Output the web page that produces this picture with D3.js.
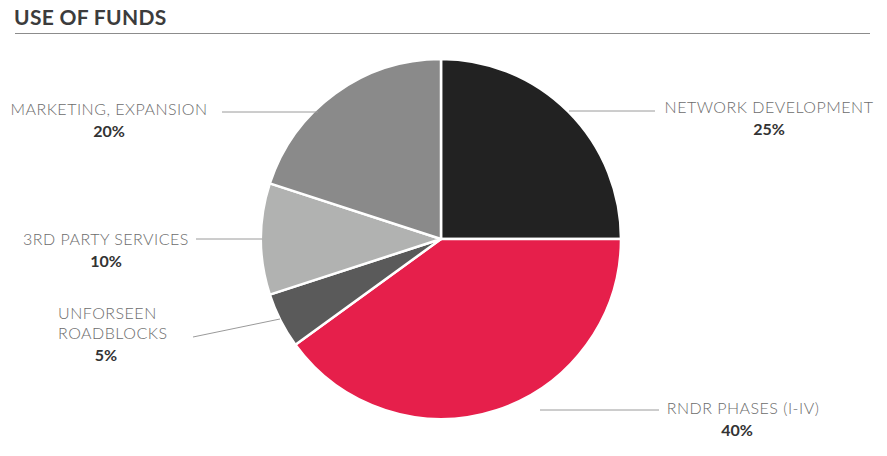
<!DOCTYPE html>
<html>
<head>
<meta charset="utf-8">
<script src="https://cdn.jsdelivr.net/npm/d3@7"></script>
<style>
  body { margin: 0; background: #fff; }
  svg { display: block; font-family: Lato, "Open Sans", sans-serif; }
</style>
</head>
<body>
<svg id="chart" width="887" height="456"></svg>
<script>
// data
let categories = ['NETWORK DEVELOPMENT', 'RNDR PHASES (I-IV)', 'UNFORSEEN ROADBLOCKS', '3RD PARTY SERVICES', 'MARKETING, EXPANSION'];
let values = [25, 40, 5, 10, 20];
let colors = ['#222222', '#e61f4b', '#5a5a5a', '#b1b2b1', '#8a8a8a'];

// label layout: text lines, anchor x, first baseline y, leader line
let labelLayout = [
  { lines: ['NETWORK DEVELOPMENT'], x: 769, y: 113, anchor: 'middle', line: [[569, 111], [655, 111]] },
  { lines: ['RNDR PHASES (I-IV)'], x: 743, y: 414, anchor: 'middle', line: [[540, 410], [659, 410]], pctX: 737 },
  { lines: ['UNFORSEEN', 'ROADBLOCKS'], x: 58, y: 319, anchor: 'start', line: [[193, 337], [280, 319]], pctX: 106 },
  { lines: ['3RD PARTY SERVICES'], x: 106, y: 245, anchor: 'middle', line: [[196, 239], [262, 239]] },
  { lines: ['MARKETING, EXPANSION'], x: 109, y: 115, anchor: 'middle', line: [[222, 112], [318, 112]] }
];
let lineGap = 20, pctGap = 22;

let svg = d3.select('#chart');

// title + rule
svg.append('text')
  .attr('x', 14).attr('y', 25)
  .attr('font-size', 21).attr('font-weight', 700)
  .attr('letter-spacing', 0.3)
  .attr('fill', '#3c3c3c')
  .text('USE OF FUNDS');

svg.append('line')
  .attr('x1', 15).attr('x2', 870)
  .attr('y1', 33.5).attr('y2', 33.5)
  .attr('stroke', '#8c8c8c').attr('stroke-width', 1);

// pie
let cx = 441, cy = 239, radius = 180;
let pie = d3.pie().sort(null).value(d => d);
let arc = d3.arc().innerRadius(0).outerRadius(radius);

let g = svg.append('g').attr('transform', `translate(${cx},${cy})`);
g.selectAll('path')
  .data(pie(values))
  .join('path')
  .attr('d', arc)
  .attr('fill', (d, i) => colors[i])
  .attr('stroke', '#fff')
  .attr('stroke-width', 2.5)
  .attr('stroke-linejoin', 'round');

// leader lines
svg.selectAll('line.leader')
  .data(labelLayout)
  .join('line')
  .attr('class', 'leader')
  .attr('x1', d => d.line[0][0]).attr('y1', d => d.line[0][1])
  .attr('x2', d => d.line[1][0]).attr('y2', d => d.line[1][1])
  .attr('stroke', '#9a9a9a').attr('stroke-width', 1);

// labels
labelLayout.forEach((L, i) => {
  L.lines.forEach((t, j) => {
    svg.append('text')
      .attr('x', L.x).attr('y', L.y + j * lineGap)
      .attr('text-anchor', L.anchor)
      .attr('font-size', 16).attr('font-weight', 300)
      .attr('letter-spacing', 0.5)
      .attr('fill', '#6c6c6c')
      .text(t);
  });
  svg.append('text')
    .attr('x', L.pctX || L.x)
    .attr('y', L.y + (L.lines.length - 1) * lineGap + pctGap)
    .attr('text-anchor', 'middle')
    .attr('font-size', 16).attr('font-weight', 700)
    .attr('fill', '#333')
    .text(values[i] + '%');
});
</script>
</body>
</html>
